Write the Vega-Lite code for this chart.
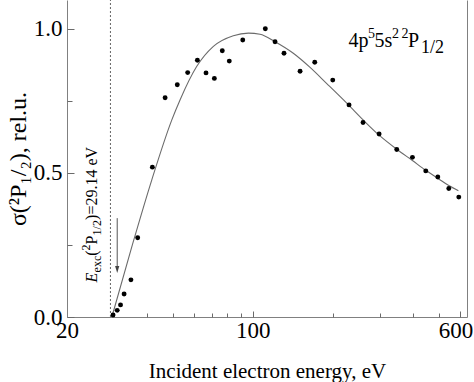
{
  "$schema": "https://vega.github.io/schema/vega-lite/v6.json",
  "width": 400,
  "height": 317,
  "autosize": {"type": "none"},
  "padding": {"left": 67, "top": 0, "right": 7, "bottom": 65},
  "background": "white",
  "config": {
    "view": {"stroke": null},
    "axis": {
      "grid": false,
      "domainColor": "#808080",
      "tickColor": "#6a6a6a",
      "tickWidth": 1,
      "ticks": true,
      "labelFont": "Liberation Serif",
      "titleFont": "Liberation Serif",
      "labelColor": "#000000",
      "titleColor": "#000000",
      "titleFontWeight": "normal",
      "labelFontSize": 23,
      "titleFontSize": 21
    },
    "text": {"font": "Liberation Serif", "color": "#000000"}
  },
  "encoding": {
    "x": {"field": "x", "type": "quantitative", "scale": {"type": "log", "domain": [20, 640], "nice": false}, "axis": null},
    "y": {"field": "y", "type": "quantitative", "scale": {"domain": [0, 1.1], "nice": false, "zero": false}, "axis": null}
  },
  "resolve": {"axis": {"x": "independent", "y": "independent"}},
  "layer": [
    {
      "data": {"values": [{"x": 29.14, "y": 0, "y2": 1.1}]},
      "mark": {"type": "rule", "color": "#666666", "strokeDash": [2, 2], "strokeWidth": 1},
      "encoding": {
        "x": {"field": "x", "type": "quantitative", "scale": {"type": "log", "domain": [20, 640], "nice": false},
          "axis": {"orient": "bottom", "ticks": false, "labels": false, "domain": true, "title": null}},
        "y": {"field": "y", "type": "quantitative", "scale": {"domain": [0, 1.1], "nice": false, "zero": false},
          "axis": {"orient": "left", "ticks": false, "labels": false, "domain": true, "title": null}},
        "y2": {"field": "y2"}
      }
    },
    {
      "data": {"values": [
        {"x": 29.5, "y": 0}, {"x": 35.1, "y": 0.245}, {"x": 41.7, "y": 0.476}, {"x": 49.6, "y": 0.684},
        {"x": 53.3, "y": 0.754}, {"x": 61.5, "y": 0.869}, {"x": 71.1, "y": 0.939}, {"x": 84.5, "y": 0.976},
        {"x": 96.3, "y": 0.985}, {"x": 106.5, "y": 0.981}, {"x": 121.3, "y": 0.955}, {"x": 142.1, "y": 0.915},
        {"x": 164.3, "y": 0.866}, {"x": 189.9, "y": 0.81}, {"x": 225.8, "y": 0.742}, {"x": 260.8, "y": 0.683},
        {"x": 299.6, "y": 0.63}, {"x": 348.2, "y": 0.582}, {"x": 398.8, "y": 0.543}, {"x": 447.8, "y": 0.509},
        {"x": 499.6, "y": 0.48}, {"x": 544.6, "y": 0.457}, {"x": 594, "y": 0.438}
      ]},
      "mark": {"type": "line", "color": "#6b6b6b", "strokeWidth": 1.1, "interpolate": "monotone"},
      "encoding": {
        "x": {"field": "x", "type": "quantitative", "scale": {"type": "log", "domain": [20, 640], "nice": false},
          "axis": {"orient": "bottom", "offset": -4, "values": [30, 40, 50, 60, 70, 80, 90, 200, 300, 400, 500], "ticks": true, "tickSize": 4, "labels": false, "domain": false, "title": null}},
        "y": {"field": "y", "type": "quantitative", "scale": {"domain": [0, 1.1], "nice": false, "zero": false},
          "axis": {"orient": "left", "offset": -5, "values": [0.25, 0.75], "ticks": true, "tickSize": 5, "labels": false, "domain": false, "title": null}}
      }
    },
    {
      "data": {"values": [
        {"x": 29.8, "y": 0.007}, {"x": 30.9, "y": 0.023}, {"x": 31.8, "y": 0.042}, {"x": 32.8, "y": 0.08},
        {"x": 34.8, "y": 0.129}, {"x": 36.9, "y": 0.275}, {"x": 41.9, "y": 0.52}, {"x": 46.8, "y": 0.761},
        {"x": 52.0, "y": 0.806}, {"x": 56.9, "y": 0.848}, {"x": 61.9, "y": 0.891}, {"x": 66.7, "y": 0.847},
        {"x": 71.7, "y": 0.828}, {"x": 76.8, "y": 0.924}, {"x": 81.6, "y": 0.888}, {"x": 91.7, "y": 0.961},
        {"x": 111.5, "y": 1.0}, {"x": 121.3, "y": 0.955}, {"x": 131.1, "y": 0.915}, {"x": 150.7, "y": 0.853},
        {"x": 171.1, "y": 0.884}, {"x": 200, "y": 0.822}, {"x": 230.3, "y": 0.736}, {"x": 260, "y": 0.675},
        {"x": 298.8, "y": 0.635}, {"x": 348.2, "y": 0.581}, {"x": 398.9, "y": 0.554}, {"x": 447.8, "y": 0.507},
        {"x": 497, "y": 0.486}, {"x": 546.6, "y": 0.446}, {"x": 596, "y": 0.416}
      ]},
      "mark": {"type": "point", "shape": "circle", "filled": true, "color": "#000000", "size": 24, "opacity": 1},
      "encoding": {
        "x": {"field": "x", "type": "quantitative", "scale": {"type": "log", "domain": [20, 640], "nice": false},
          "axis": {"orient": "bottom", "offset": -6, "values": [20, 100, 600], "format": "d", "ticks": true, "tickSize": 6, "domain": false, "labelPadding": 2, "labelFlush": false, "labelOverlap": false,
            "labelOffset": {"condition": {"test": "datum.value == 600", "value": -4}, "value": 0},
            "title": "Incident electron energy, eV", "titlePadding": 18}},
        "y": {"field": "y", "type": "quantitative", "scale": {"domain": [0, 1.1], "nice": false, "zero": false},
          "axis": {"orient": "left", "offset": -7, "values": [0, 0.5, 1], "format": ".1f", "ticks": true, "tickSize": 7, "domain": false, "labelPadding": 5, "labelFlush": false, "labelOverlap": false, "title": "σ(²P₁/₂), rel.u.", "titleFontSize": 24, "titlePadding": 3}}
      }
    },
    {
      "data": {"values": [{"x": 30.9, "y": 0.343, "y2": 0.177}]},
      "mark": {"type": "rule", "color": "#555555", "strokeWidth": 1},
      "encoding": {
        "y": {"field": "y", "type": "quantitative", "scale": {"domain": [0, 1.1], "nice": false, "zero": false},
          "axis": {"orient": "right", "ticks": false, "labels": false, "title": null, "domain": true}},
        "y2": {"field": "y2"}
      }
    },
    {
      "data": {"values": [{"x": 30.9, "y": 0.165}]},
      "mark": {"type": "point", "shape": "M-0.6,-1L0.6,-1L0,1Z", "filled": true, "color": "#444444", "size": 49, "opacity": 1}
    },
    {
      "data": {"values": [{"x": 25.94, "y": 0.12, "t": "E"}]},
      "mark": {"type": "text", "angle": 270, "align": "left", "baseline": "alphabetic", "fontSize": 16, "fontStyle": "italic", "dx": 0, "dy": 0},
      "encoding": {"text": {"field": "t"}}
    },
    {
      "data": {"values": [{"x": 25.94, "y": 0.12, "t": "exc"}]},
      "mark": {"type": "text", "angle": 270, "align": "left", "baseline": "alphabetic", "fontSize": 12, "dx": 10, "dy": 4},
      "encoding": {"text": {"field": "t"}}
    },
    {
      "data": {"values": [{"x": 25.94, "y": 0.12, "t": "("}]},
      "mark": {"type": "text", "angle": 270, "align": "left", "baseline": "alphabetic", "fontSize": 16, "dx": 26.7, "dy": 0},
      "encoding": {"text": {"field": "t"}}
    },
    {
      "data": {"values": [{"x": 25.94, "y": 0.12, "t": "2"}]},
      "mark": {"type": "text", "angle": 270, "align": "left", "baseline": "alphabetic", "fontSize": 12, "dx": 32, "dy": -7},
      "encoding": {"text": {"field": "t"}}
    },
    {
      "data": {"values": [{"x": 25.94, "y": 0.12, "t": "P"}]},
      "mark": {"type": "text", "angle": 270, "align": "left", "baseline": "alphabetic", "fontSize": 16, "dx": 38, "dy": 0},
      "encoding": {"text": {"field": "t"}}
    },
    {
      "data": {"values": [{"x": 25.94, "y": 0.12, "t": "1/2"}]},
      "mark": {"type": "text", "angle": 270, "align": "left", "baseline": "alphabetic", "fontSize": 12, "dx": 47, "dy": 4},
      "encoding": {"text": {"field": "t"}}
    },
    {
      "data": {"values": [{"x": 25.94, "y": 0.12, "t": ")=29.14 eV"}]},
      "mark": {"type": "text", "angle": 270, "align": "left", "baseline": "alphabetic", "fontSize": 16, "dx": 62.5, "dy": 0},
      "encoding": {"text": {"field": "t"}}
    },
    {
      "data": {"values": [{"x": 229.2, "y": 0.938, "t": "4p"}]},
      "mark": {"type": "text", "align": "left", "baseline": "alphabetic", "fontSize": 20, "dx": 0, "dy": 0},
      "encoding": {"text": {"field": "t"}}
    },
    {
      "data": {"values": [{"x": 229.2, "y": 0.938, "t": "5"}]},
      "mark": {"type": "text", "align": "left", "baseline": "alphabetic", "fontSize": 14, "dx": 19.5, "dy": -9},
      "encoding": {"text": {"field": "t"}}
    },
    {
      "data": {"values": [{"x": 229.2, "y": 0.938, "t": "5s"}]},
      "mark": {"type": "text", "align": "left", "baseline": "alphabetic", "fontSize": 20, "dx": 26, "dy": 0},
      "encoding": {"text": {"field": "t"}}
    },
    {
      "data": {"values": [{"x": 229.2, "y": 0.938, "t": "2"}]},
      "mark": {"type": "text", "align": "left", "baseline": "alphabetic", "fontSize": 14, "dx": 43.5, "dy": -9},
      "encoding": {"text": {"field": "t"}}
    },
    {
      "data": {"values": [{"x": 229.2, "y": 0.938, "t": "2"}]},
      "mark": {"type": "text", "align": "left", "baseline": "alphabetic", "fontSize": 14, "dx": 53, "dy": -9},
      "encoding": {"text": {"field": "t"}}
    },
    {
      "data": {"values": [{"x": 229.2, "y": 0.938, "t": "P"}]},
      "mark": {"type": "text", "align": "left", "baseline": "alphabetic", "fontSize": 20, "dx": 59.5, "dy": 0},
      "encoding": {"text": {"field": "t"}}
    },
    {
      "data": {"values": [{"x": 229.2, "y": 0.938, "t": "1/2"}]},
      "mark": {"type": "text", "align": "left", "baseline": "alphabetic", "fontSize": 18, "dx": 72.5, "dy": 6},
      "encoding": {"text": {"field": "t"}}
    }
  ]
}
